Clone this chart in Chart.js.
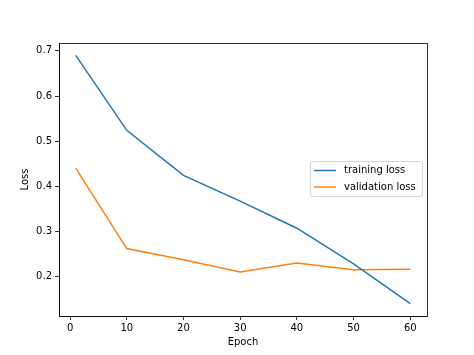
<!DOCTYPE html>
<html>
<head>
<meta charset="utf-8">
<script src="https://cdn.jsdelivr.net/npm/chart.js@4"></script>
<style>
html,body{margin:0;padding:0;background:#fff;}
#wrap{width:474px;height:355px;}
</style>
</head>
<body>
<div id="wrap"><canvas id="c" width="474" height="355"></canvas></div>
<script>
const epochs = [1, 10, 20, 30, 40, 50, 60];
const trainingLoss = [0.690, 0.524, 0.424, 0.367, 0.307, 0.228, 0.140];
const validationLoss = [0.440, 0.262, 0.237, 0.210, 0.230, 0.215, 0.216];
const xTicks = [0, 10, 20, 30, 40, 50, 60];
const yTicks = [0.2, 0.3, 0.4, 0.5, 0.6, 0.7];
const seriesNames = ['training loss', 'validation loss'];
const xTitle = 'Epoch';
const yTitle = 'Loss';

const FONT = 'DejaVu Sans';

const framePlugin = {
  id: 'frame',
  afterDraw(chart) {
    const {ctx, chartArea: a} = chart;
    ctx.save();
    ctx.strokeStyle = '#000';
    ctx.lineWidth = 0.8;
    ctx.strokeRect(Math.round(a.left) + 0.5, Math.round(a.top) + 0.5, Math.round(a.right - a.left), Math.round(a.bottom - a.top));
    // legend
    const bx = 310.5, by = 161.5, bw = 112, bh = 35, r = 2;
    ctx.beginPath();
    ctx.moveTo(bx + r, by);
    ctx.lineTo(bx + bw - r, by);
    ctx.quadraticCurveTo(bx + bw, by, bx + bw, by + r);
    ctx.lineTo(bx + bw, by + bh - r);
    ctx.quadraticCurveTo(bx + bw, by + bh, bx + bw - r, by + bh);
    ctx.lineTo(bx + r, by + bh);
    ctx.quadraticCurveTo(bx, by + bh, bx, by + bh - r);
    ctx.lineTo(bx, by + r);
    ctx.quadraticCurveTo(bx, by, bx + r, by);
    ctx.closePath();
    ctx.fillStyle = 'rgba(255,255,255,0.8)';
    ctx.fill();
    ctx.strokeStyle = 'rgba(204,204,204,0.8)';
    ctx.lineWidth = 1;
    ctx.stroke();
    ctx.font = '10px "' + FONT + '"';
    ctx.textBaseline = 'middle';
    ctx.textAlign = 'left';
    chart.data.datasets.forEach((ds, i) => {
      const y = 170.5 + i * 16.5;
      ctx.strokeStyle = ds.borderColor;
      ctx.lineWidth = 1.5;
      ctx.beginPath();
      ctx.moveTo(314, y);
      ctx.lineTo(336, y);
      ctx.stroke();
      ctx.fillStyle = '#000';
      ctx.fillText(ds.label, 344, y);
    });
    ctx.restore();
  }
};

new Chart(document.getElementById('c'), {
  type: 'line',
  data: {
    datasets: [
      {
        label: seriesNames[0],
        data: epochs.map((e, i) => ({x: e, y: trainingLoss[i]})),
        borderColor: '#1f77b4',
        borderWidth: 1.5,
        pointRadius: 0,
        tension: 0,
        fill: false
      },
      {
        label: seriesNames[1],
        data: epochs.map((e, i) => ({x: e, y: validationLoss[i]})),
        borderColor: '#ff7f0e',
        borderWidth: 1.5,
        pointRadius: 0,
        tension: 0,
        fill: false
      }
    ]
  },
  options: {
    responsive: false,
    animation: false,
    devicePixelRatio: 1,
    layout: {padding: {left: 0, right: 47, top: 43, bottom: 0}},
    plugins: {legend: {display: false}, tooltip: {enabled: false}},
    scales: {
      x: {
        type: 'linear',
        min: -1.95,
        max: 62.95,
        afterBuildTicks(s) { s.ticks = xTicks.map(v => ({value: v})); },
        afterFit(s) { s.height = 39; },
        grid: {drawOnChartArea: false, drawTicks: true, tickLength: 4, color: '#000', lineWidth: 0.8},
        border: {display: true, color: '#000', width: 0.8},
        ticks: {font: {family: FONT, size: 10}, color: '#000', padding: 2, maxRotation: 0, callback: v => String(v)},
        title: {display: true, text: xTitle, font: {family: FONT, size: 10}, color: '#000', padding: {top: 0, bottom: 7}}
      },
      y: {
        type: 'linear',
        min: 0.1125,
        max: 0.7175,
        afterBuildTicks(s) { s.ticks = yTicks.map(v => ({value: v})); },
        afterFit(s) { s.width = 59; },
        grid: {drawOnChartArea: false, drawTicks: true, tickLength: 4, color: '#000', lineWidth: 0.8},
        border: {display: true, color: '#000', width: 0.8},
        ticks: {font: {family: FONT, size: 10}, color: '#000', padding: 3, callback: v => v.toFixed(1)},
        title: {display: true, text: yTitle, font: {family: FONT, size: 10}, color: '#000', padding: {top: 19, bottom: 0}}
      }
    }
  },
  plugins: [framePlugin]
});
</script>
</body>
</html>
